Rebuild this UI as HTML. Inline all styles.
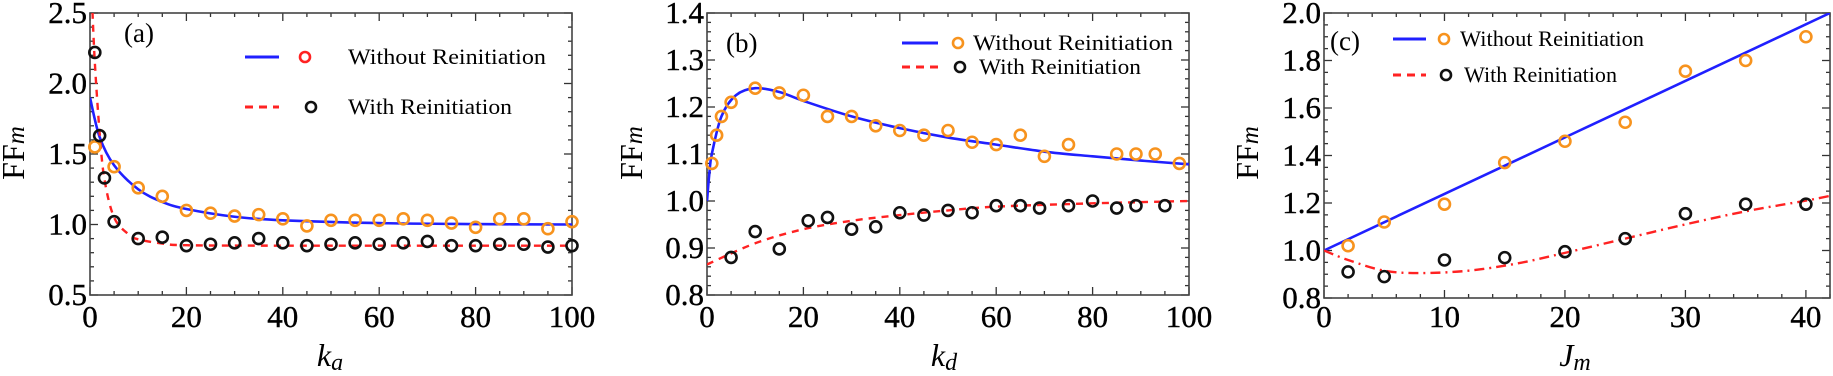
<!DOCTYPE html>
<html><head><meta charset="utf-8">
<style>html,body{margin:0;padding:0;background:#fff;}svg{display:block;}</style>
</head><body>
<svg id="s" width="1833" height="376" xmlns="http://www.w3.org/2000/svg" font-family="Liberation Serif, serif"></svg>
<script>
const S=document.getElementById('s');let h='';
function cr(pts){let d='M'+pts[0][0]+','+pts[0][1];for(let i=0;i<pts.length-1;i++){const p0=pts[i-1]||pts[i],p1=pts[i],p2=pts[i+1],p3=pts[i+2]||p2;
d+=' C'+(p1[0]+(p2[0]-p0[0])/6)+','+(p1[1]+(p2[1]-p0[1])/6)+' '+(p2[0]-(p3[0]-p1[0])/6)+','+(p2[1]-(p3[1]-p1[1])/6)+' '+p2[0]+','+p2[1];}return d;}
function panel(o){
 const X=v=>o.x0+(v-o.xmin)/(o.xmax-o.xmin)*(o.x1-o.x0);
 const Y=v=>o.y1-(v-o.ymin)/(o.ymax-o.ymin)*(o.y1-o.y0);
 h+=`<defs><clipPath id="c${o.id}"><rect x="${o.x0}" y="${o.y0}" width="${o.x1-o.x0}" height="${o.y1-o.y0}"/></clipPath></defs>`;
 for(let v=o.xmin;v<=o.xmax+1e-9;v+=o.xminor){const maj=Math.abs(Math.round(v/o.xmaj)*o.xmaj-v)<1e-6;const L=maj?8:4;const x=X(v);
  h+=`<line x1="${x}" y1="${o.y1}" x2="${x}" y2="${o.y1-L}" stroke="#333" stroke-width="1.3"/><line x1="${x}" y1="${o.y0}" x2="${x}" y2="${o.y0+L}" stroke="#333" stroke-width="1.3"/>`;
  if(maj&&v<=o.xlabmax)h+=`<text x="${x}" y="327" font-size="31" text-anchor="middle" stroke="#000" stroke-width="0.4">${Math.round(v)}</text>`;}
 for(let v=o.ymin;v<=o.ymax+1e-9;v+=o.yminor){const maj=Math.abs(Math.round(v/o.ymaj)*o.ymaj-v)<1e-6;const L=maj?8:4;const y=Y(v);
  h+=`<line x1="${o.x0}" y1="${y}" x2="${o.x0+L}" y2="${y}" stroke="#333" stroke-width="1.3"/><line x1="${o.x1}" y1="${y}" x2="${o.x1-L}" y2="${y}" stroke="#333" stroke-width="1.3"/>`;
  if(maj)h+=`<text x="${o.x0-3}" y="${y+10}" font-size="31" text-anchor="end" stroke="#000" stroke-width="0.4">${v.toFixed(1)}</text>`;}
 h+=`<rect x="${o.x0}" y="${o.y0}" width="${o.x1-o.x0}" height="${o.y1-o.y0}" fill="none" stroke="#444" stroke-width="1.6"/>`;
 const P=a=>a.map(p=>[X(p[0]),Y(p[1])]);
 h+=`<g clip-path="url(#c${o.id})"><path d="${cr(P(o.blue))}" fill="none" stroke="#2020ff" stroke-width="2.6"/>
 <path d="${cr(P(o.red))}" fill="none" stroke="#f22" stroke-width="2.4" stroke-dasharray="${o.dash}"/></g>`;
 for(const p of o.or)h+=`<circle cx="${X(p[0])}" cy="${Y(p[1])}" r="5.5" fill="none" stroke="#f7931e" stroke-width="2.6"/>`;
 for(const p of o.bk)h+=`<circle cx="${X(p[0])}" cy="${Y(p[1])}" r="5.5" fill="none" stroke="#111" stroke-width="2.6"/>`;
 h+=`<text transform="translate(${o.yl},153) rotate(-90)" font-size="32" text-anchor="middle">FF<tspan font-style="italic" font-size="25">m</tspan></text>`;
 h+=`<text x="${o.xl}" y="366" font-size="32" font-style="italic" text-anchor="middle">${o.xlab}<tspan font-size="24" dy="4">${o.xsub}</tspan></text>`;
 h+=`<text x="${o.lab[0]}" y="${o.lab[1]}" font-size="27">${o.lab[2]}</text>`;
 const L=o.leg;
 h+=`<line x1="${L[0]}" y1="${L[1]}" x2="${L[2]}" y2="${L[1]}" stroke="#2020ff" stroke-width="3"/>
 <circle cx="${L[3]}" cy="${L[1]}" r="5" fill="none" stroke="${o.legc}" stroke-width="2.6"/>
 <text x="${L[4]}" y="${L[1]+7}" font-size="22" textLength="${L[5]}" lengthAdjust="spacingAndGlyphs">${o.t1}</text>
 <line x1="${L[0]}" y1="${L[6]}" x2="${L[2]}" y2="${L[6]}" stroke="#f22" stroke-width="3" stroke-dasharray="8,6"/>
 <circle cx="${L[7]}" cy="${L[6]}" r="5" fill="none" stroke="#111" stroke-width="2.6"/>
 <text x="${L[8]}" y="${L[6]+7}" font-size="22" textLength="${L[9]}" lengthAdjust="spacingAndGlyphs">With Reinitiation</text>`;
}
panel({id:'a',x0:90,x1:572,y0:13,y1:295,xmin:0,xmax:100,ymin:0.5,ymax:2.5,xmaj:20,xminor:5,ymaj:0.5,yminor:0.1,xlabmax:100,
 blue:[[0,1.9],[2,1.62],[5,1.42],[10,1.25],[15,1.16],[20,1.11],[30,1.055],[40,1.03],[60,1.01],[80,1.003],[100,1.0]],
 red:[[0.4,2.6],[1,2.15],[2,1.65],[3,1.32],[5,1.05],[8,0.93],[10,0.895],[15,0.865],[20,0.853],[40,0.85],[100,0.85]],dash:'7,6',
 or:[[1,1.55],[5,1.41],[10,1.26],[15,1.2],[20,1.1],[25,1.08],[30,1.06],[35,1.07],[40,1.04],[45,0.99],[50,1.03],[55,1.03],[60,1.03],[65,1.04],[70,1.03],[75,1.01],[80,0.98],[85,1.04],[90,1.04],[95,0.97],[100,1.02]],
 bk:[[1,2.22],[2,1.63],[3,1.33],[5,1.02],[10,0.9],[15,0.91],[20,0.85],[25,0.86],[30,0.87],[35,0.9],[40,0.87],[45,0.85],[50,0.86],[55,0.87],[60,0.86],[65,0.87],[70,0.88],[75,0.85],[80,0.85],[85,0.86],[90,0.86],[95,0.84],[100,0.85]],
 yl:24,xl:330,xlab:'k',xsub:'a',lab:[124,42,'(a)'],leg:[245,57,279,305,348,198,107,311,348,164],legc:'#f22',t1:'Without Reinitiation'});
panel({id:'b',x0:707,x1:1189,y0:13,y1:295,xmin:0,xmax:100,ymin:0.8,ymax:1.4,xmaj:20,xminor:5,ymaj:0.1,yminor:0.02,xlabmax:100,
 blue:[[0,1.0],[0.5,1.06],[1,1.1],[3,1.18],[6,1.225],[10,1.24],[15,1.232],[20,1.213],[30,1.18],[40,1.155],[50,1.135],[60,1.12],[70,1.105],[80,1.095],[90,1.086],[100,1.078]],
 red:[[0,0.865],[10,0.91],[20,0.94],[30,0.958],[40,0.97],[50,0.98],[60,0.988],[80,0.995],[100,1.0]],dash:'7,6',
 or:[[1,1.08],[2,1.14],[3,1.18],[5,1.21],[10,1.24],[15,1.23],[20,1.225],[25,1.18],[30,1.18],[35,1.16],[40,1.15],[45,1.14],[50,1.15],[55,1.125],[60,1.12],[65,1.14],[70,1.095],[75,1.12],[85,1.1],[89,1.1],[93,1.1],[98,1.08]],
 bk:[[5,0.88],[10,0.935],[15,0.898],[21,0.958],[25,0.965],[30,0.94],[35,0.945],[40,0.975],[45,0.97],[50,0.98],[55,0.975],[60,0.99],[65,0.99],[69,0.985],[75,0.99],[80,1.0],[85,0.985],[89,0.99],[95,0.99]],
 yl:642,xl:944,xlab:'k',xsub:'d',lab:[726,52,'(b)'],leg:[902,43,938,958,973,200,67,960,979,162],legc:'#f7931e',t1:'Without  Reinitiation'});
panel({id:'c',x0:1324,x1:1830,y0:13,y1:298,xmin:0,xmax:42,ymin:0.8,ymax:2.0,xmaj:10,xminor:2,ymaj:0.2,yminor:0.05,xlabmax:40,
 blue:[[0,1.0],[42,2.0]],
 red:[[0,1.0],[2,0.96],[5,0.915],[8,0.905],[12,0.915],[16,0.945],[20,0.99],[25,1.05],[30,1.11],[35,1.165],[40,1.21],[42,1.23]],dash:'10,5,2,5',
 or:[[2,1.02],[5,1.12],[10,1.195],[15,1.37],[20,1.46],[25,1.54],[30,1.755],[35,1.8],[40,1.9]],
 bk:[[2,0.91],[5,0.89],[10,0.96],[15,0.97],[20,0.995],[25,1.05],[30,1.155],[35,1.195],[40,1.195]],
 yl:1258,xl:1575,xlab:'J',xsub:'m',lab:[1330,50,'(c)'],leg:[1393,39,1426,1444,1460,184,75,1446,1464,153],legc:'#f7931e',t1:'Without Reinitiation'});
S.innerHTML=h;
</script>
</body></html>
